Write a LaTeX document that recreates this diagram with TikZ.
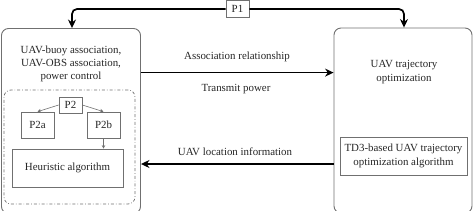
\documentclass[tikz,border=0pt]{standalone}
\usepackage{fontspec}
\setmainfont{Liberation Serif}
\usetikzlibrary{arrows.meta}
\definecolor{boxgray}{HTML}{707070}
\tikzset{
  x=1pt, y=-1pt,
  every node/.style={font=\fontsize{10.9}{12.8}\selectfont, text=black!85},
  outerbox/.style={draw=boxgray, line width=0.9pt, rounded corners=7pt, inner sep=0pt},
  innerbox/.style={draw=boxgray, line width=0.7pt, fill=white, inner sep=0pt},
  dashbox/.style={draw=boxgray, line width=0.7pt, dash dot, rounded corners=7pt, inner sep=0pt},
  plain/.style={inner sep=0pt, align=center},
  bigarrow/.style={line width=1.7pt, -{Stealth[length=8.5pt,width=8pt]}},
  smallarrow/.style={draw=boxgray, line width=0.6pt, -{Stealth[length=3.5pt,width=3.5pt]}},
}
\begin{document}
\begin{tikzpicture}
\useasboundingbox (0,0) rectangle (474,210);
% outer boxes
\node[outerbox, minimum width=139pt, minimum height=185pt] (L) at (71,121) {};
\node[outerbox, minimum width=138pt, minimum height=185pt] (R) at (403,120.5) {};
% texts in outer boxes
\node[plain] (lt) at (71,64) {UAV-buoy association,\\UAV-OBS association,\\power control};
\node[plain, font=\fontsize{10.9}{14}\selectfont] (rt) at (404,72) {UAV trajectory\\optimization};
% dash-dot box
\node[dashbox, minimum width=131pt, minimum height=114pt] (D) at (69.5,147) {};
% inner boxes
\node[innerbox, minimum width=23pt, minimum height=16pt] (P2) at (70.5,105) {P2};
\node[innerbox, minimum width=33pt, minimum height=26pt] (P2a) at (37.5,125) {P2a};
\node[innerbox, minimum width=33pt, minimum height=26pt] (P2b) at (103.5,125) {P2b};
\node[innerbox, minimum width=111pt, minimum height=38pt] (H) at (67.5,168) {Heuristic algorithm};
\node[innerbox, minimum width=127pt, minimum height=38pt, align=center, font=\fontsize{10.9}{14}\selectfont] (T) at (403.5,156) {TD3-based UAV trajectory\\optimization algorithm};
% small arrows
\draw[smallarrow] (P2.west) -- (P2a.north);
\draw[smallarrow] (P2.east) -- (P2b.north);
\draw[smallarrow] (P2b.south) -- (P2b.south |- H.north);
% P1 and top connectors
\node[innerbox, minimum width=23pt, minimum height=17pt] (P1) at (237.5,9) {P1};
\draw[bigarrow, rounded corners=5pt] (P1.west) -| ([xshift=1pt]L.north);
\draw[bigarrow, rounded corners=5pt] (P1.east) -| ([xshift=1pt]R.north);
% middle arrows
\coordinate (a1) at (L.east |- 0,72.6);
\coordinate (a2) at (R.west |- 0,164);
\draw[bigarrow] (a1) -- (a1 -| R.west);
\draw[bigarrow] (a2) -- (a2 -| L.east);
\node[plain] (t1) at (237,57) {Association relationship};
\node[plain] (t2) at (236,89) {Transmit power};
\node[plain] (t3) at (235,152) {UAV location information};
\end{tikzpicture}
\end{document}
